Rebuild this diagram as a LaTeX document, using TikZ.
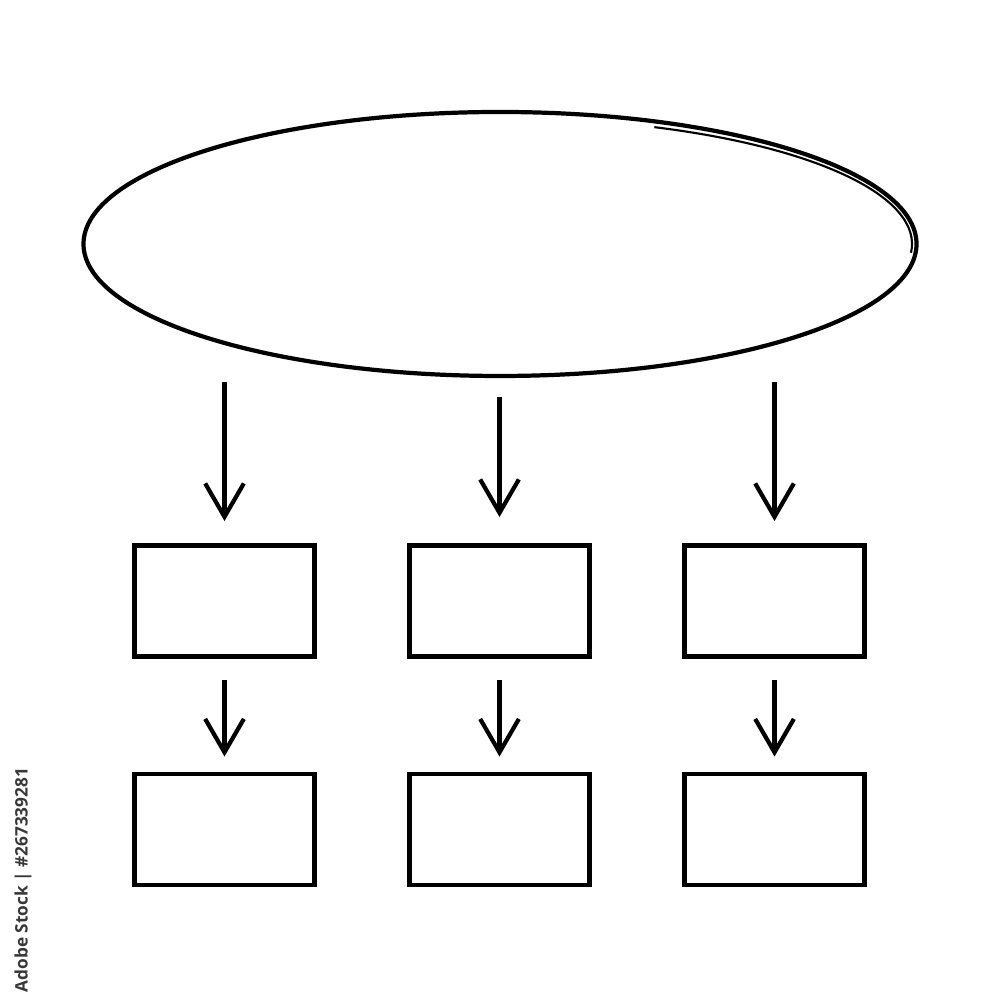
\documentclass[tikz,border=0pt]{standalone}
\usepackage{fontspec}
\newfontfamily\stockfont{Open Sans}
\usepackage{tikz}
\usetikzlibrary{positioning, shapes.geometric, arrows.meta}

\begin{document}
\begin{tikzpicture}[>=Straight Barb, node distance=1cm, on grid,
    topic/.style = {draw, ellipse, line width=1.2pt, inner sep=0pt,
                    minimum width=8.33cm, minimum height=2.64cm},
    entry/.style = {draw, rectangle, line width=1.4pt, inner sep=0pt,
                    minimum width=1.80cm, minimum height=1.11cm},
    arrow/.style = {line width=1.2pt, -{Straight Barb[length=9.5pt, width=11pt]}}]

    \fill [white] (0,0) rectangle (10,10);
    \useasboundingbox (0,0) rectangle (10,10);

    % States
    \node [topic] (topic) at (5,7.56) {};
    \draw [line width=0.6pt] (topic.center) ++(68:4.12cm and 1.26cm)
        arc [start angle=68, end angle=-4, x radius=4.12cm, y radius=1.26cm];
    \node [entry] (b1) [below left = 3.57cm and 2.755cm of topic] {};
    \node [entry] (b2) [right=2.75cm of b1] {};
    \node [entry] (b3) [right=2.75cm of b2] {};
    \node [entry] (b4) [below=2.285cm of b1] {};
    \node [entry] (b5) [below=2.285cm of b2] {};
    \node [entry] (b6) [below=2.285cm of b3] {};
    \node [rotate=90, text=black!78, font=\stockfont\bfseries\fontsize{4.9}{6}\selectfont]
        (stockid) at (0.23,1.20) {Adobe Stock | \#267339281};

    % Transitions
    \draw [arrow, shorten <=0.04cm, shorten >=0.22cm] (topic.south -| b1.north) -- (b1.north);
    \draw [arrow, shorten <=0.19cm, shorten >=0.26cm] (topic.south -| b2.north) -- (b2.north);
    \draw [arrow, shorten <=0.04cm, shorten >=0.22cm] (topic.south -| b3.north) -- (b3.north);
    \draw [arrow, shorten <=0.21cm, shorten >=0.15cm] (b1.south) -- (b4.north);
    \draw [arrow, shorten <=0.21cm, shorten >=0.15cm] (b2.south) -- (b5.north);
    \draw [arrow, shorten <=0.21cm, shorten >=0.15cm] (b3.south) -- (b6.north);
\end{tikzpicture}
\end{document}
